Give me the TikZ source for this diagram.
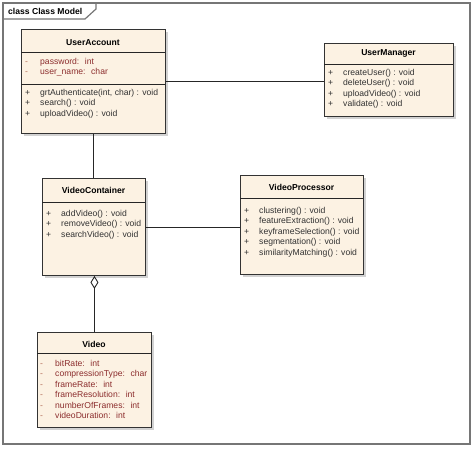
\documentclass[tikz,border=0pt]{standalone}
\usepackage{fontspec}
\setmainfont{Liberation Sans}
\usetikzlibrary{matrix,positioning,shadows,arrows.meta}
\definecolor{classfill}{RGB}{252,242,227}
\definecolor{attrred}{RGB}{140,45,45}
\definecolor{minusred}{RGB}{180,110,90}
\definecolor{opgray}{RGB}{50,50,50}
\definecolor{framegray}{RGB}{118,118,118}

\begin{document}
\begin{tikzpicture}[x=1pt,y=-1pt,
    font=\fontsize{8.6}{10}\selectfont,
    classbox/.style={draw=black!80,line width=0.9pt,fill=classfill,anchor=north west,inner sep=0pt,
      drop shadow={shadow xshift=2.5pt,shadow yshift=-2.5pt,fill=black!35}},
    classname/.style={font=\fontsize{8.6}{10}\selectfont\bfseries,inner sep=0pt},
    members/.style={matrix of nodes,anchor=north west,inner sep=0pt,column sep=5pt,row sep=2.3pt,
      nodes={inner sep=0pt,text height=6.4pt,text depth=1.8pt,anchor=base west}},
    attrs/.style={members,nodes={text=attrred},column 1/.style={nodes={text width=10pt,text=minusred}}},
    ops/.style={members,nodes={text=opgray},column 1/.style={nodes={text width=10pt}}},
    link/.style={draw=black!85,line width=0.9pt}]
  \path[use as bounding box,fill=white] (0,0) rectangle (474,448);
  \draw[framegray,line width=1.4pt] (3,3) rectangle (470,444);
  \draw[framegray,line width=1.2pt] (3,19) -- (85,19) -- (96,9) -- (96,3);
  \node[classname,anchor=west] (frame-name) at (8,11.5) {class Class Model};

  \node[classbox,minimum width=144pt,minimum height=104pt] (ua) at (21,29) {};
  \node[classname] (ua-name) at (93,42.5) {UserAccount};
  \draw[link] (21,52) -- (165,52);
  \matrix[attrs] (ua-attr) at (25,57.5) {
    - & password:~ int \\
    - & user\_name:~ char \\
  };
  \draw[link] (21,84) -- (165,84);
  \matrix[ops] (ua-ops) at (25,88.5) {
    + & grtAuthenticate(int, char) : void \\
    + & search() : void \\
    + & uploadVideo() : void \\
  };

  \node[classbox,minimum width=129pt,minimum height=73pt] (um) at (324,43) {};
  \node[classname] (um-name) at (388.5,53) {UserManager};
  \draw[link] (324,64) -- (453,64);
  \matrix[ops] (um-ops) at (328,68.5) {
    + & createUser() : void \\
    + & deleteUser() : void \\
    + & uploadVideo() : void \\
    + & validate() : void \\
  };

  \node[classbox,minimum width=103pt,minimum height=97pt] (vc) at (42,178) {};
  \node[classname] (vc-name) at (93.5,190.5) {VideoContainer};
  \draw[link] (42,202) -- (145,202);
  \matrix[ops] (vc-ops) at (46,209.5) {
    + & addVideo() : void \\
    + & removeVideo() : void \\
    + & searchVideo() : void \\
  };

  \node[classbox,minimum width=123pt,minimum height=99pt] (vp) at (240,175) {};
  \node[classname] (vp-name) at (301.5,187.5) {VideoProcessor};
  \draw[link] (240,198) -- (363,198);
  \matrix[ops] (vp-ops) at (244,206.5) {
    + & clustering() : void \\
    + & featureExtraction() : void \\
    + & keyframeSelection() : void \\
    + & segmentation() : void \\
    + & similarityMatching() : void \\
  };

  \node[classbox,minimum width=114pt,minimum height=95pt] (video) at (37,332) {};
  \node[classname] (video-name) at (94,344.5) {Video};
  \draw[link] (37,353) -- (151,353);
  \matrix[attrs] (video-attr) at (40,359.5) {
    - & bitRate:~ int \\
    - & compressionType:~ char \\
    - & frameRate:~ int \\
    - & frameResolution:~ int \\
    - & numberOfFrames:~ int \\
    - & videoDuration:~ int \\
  };

  \draw[link] (ua.east) -- (ua.east -| um.west);
  \draw[link] (ua.south) -- (ua.south |- vc.north);
  \draw[link] (vc.east) -- (vc.east -| vp.west);
  \draw[link,-{Diamond[open,width=8pt,length=13pt]}] (video.north) -- (video.north |- vc.south);
\end{tikzpicture}
\end{document}
